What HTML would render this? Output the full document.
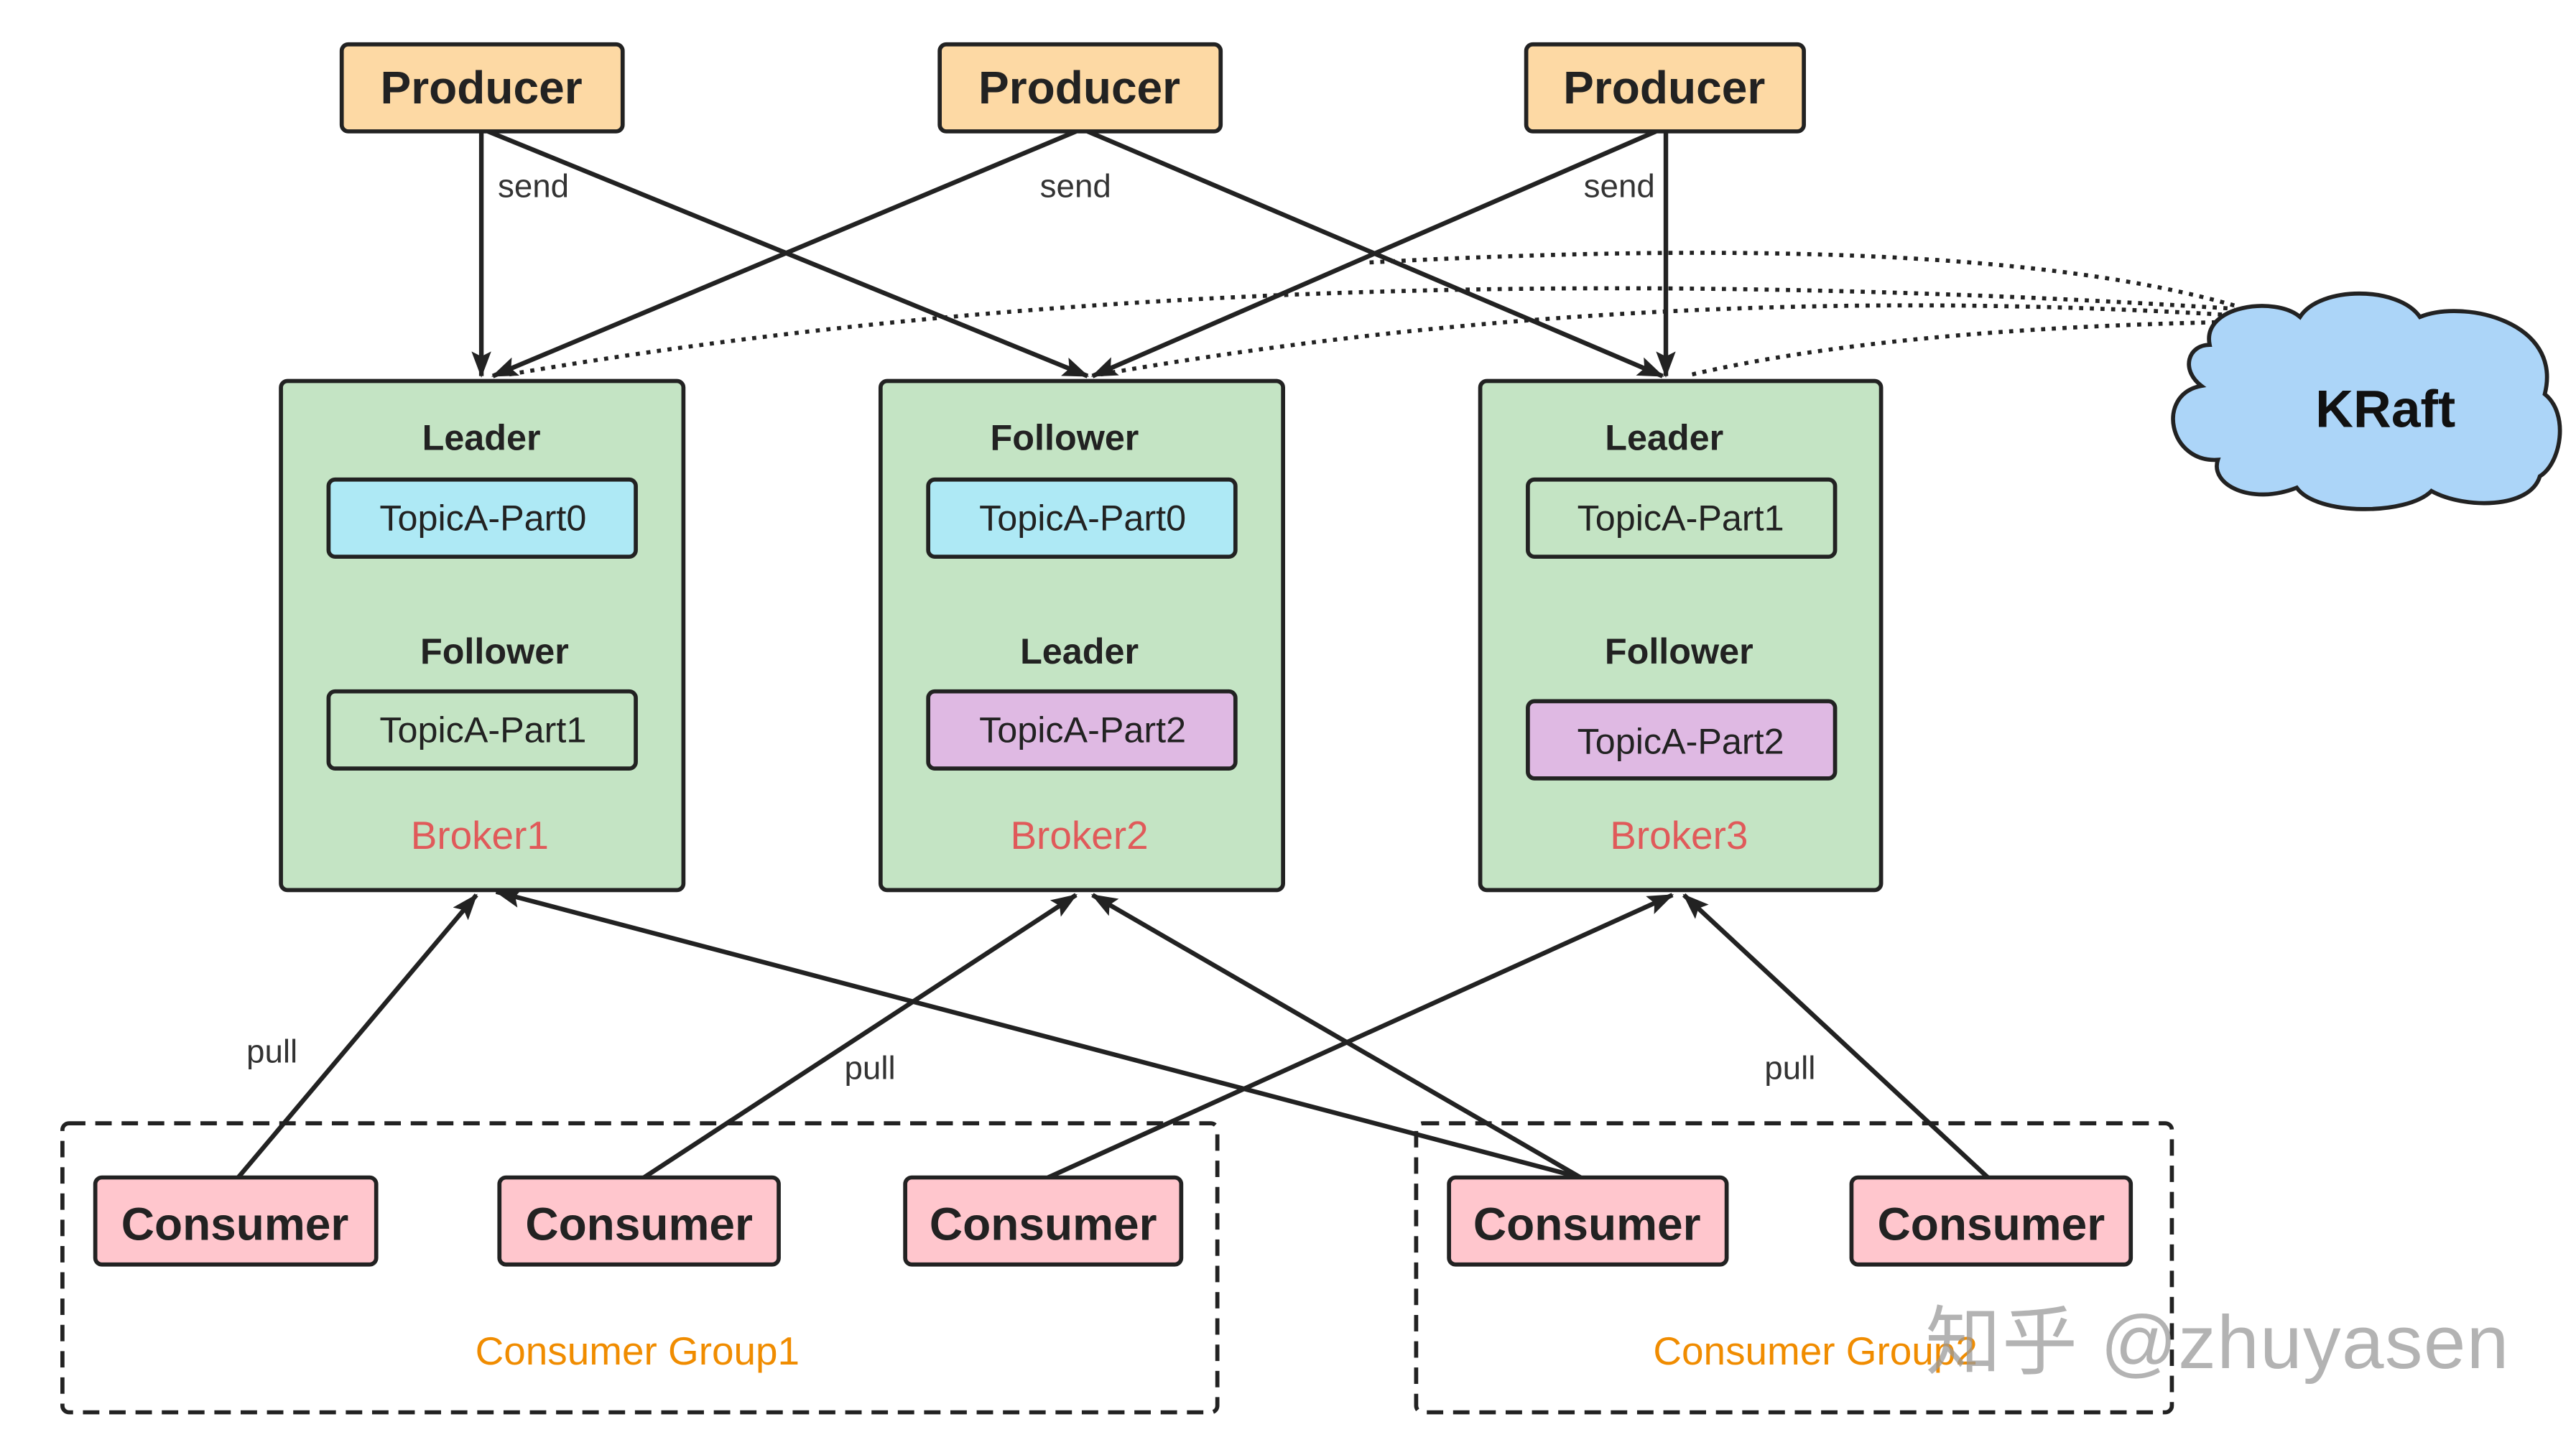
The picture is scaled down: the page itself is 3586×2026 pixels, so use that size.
<!DOCTYPE html>
<html><head><meta charset="utf-8"><style>
html,body{margin:0;padding:0;background:#fff;width:3586px;height:2026px;overflow:hidden}
svg{display:block}
text{font-family:"Liberation Sans",sans-serif}
</style></head><body>
<svg width="3586" height="2026" viewBox="0 0 1568 886" preserveAspectRatio="none" xmlns="http://www.w3.org/2000/svg">
<defs>
<marker id="ar" viewBox="0 0 16 12" refX="15" refY="6" markerWidth="16" markerHeight="12" orient="auto" markerUnits="userSpaceOnUse">
<path d="M0,0 L16,6 L0,12 L3,6 z" fill="#222"/>
</marker>
</defs>
<g stroke="#222" stroke-width="2.8" fill="none">
<g stroke-dasharray="2.5,4" stroke-width="2.5">
<path d="M310,228 Q 760,150 1360,188"/>
<path d="M670,228 Q 1000,170 1360,192"/>
<path d="M1030,228 Q 1150,200 1360,196"/>
<path d="M1360,186 Q 1200,140 830,160"/>
</g>
<line x1="293" y1="80" x2="293" y2="229" marker-end="url(#ar)"/>
<line x1="297" y1="80" x2="662" y2="229" marker-end="url(#ar)"/>
<line x1="655" y1="80" x2="300" y2="229" marker-end="url(#ar)"/>
<line x1="662" y1="80" x2="1012" y2="229" marker-end="url(#ar)"/>
<line x1="1008" y1="80" x2="665" y2="229" marker-end="url(#ar)"/>
<line x1="1014" y1="80" x2="1014" y2="229" marker-end="url(#ar)"/>
<line x1="145" y1="717" x2="290" y2="545" marker-end="url(#ar)"/>
<line x1="392" y1="717" x2="655" y2="545" marker-end="url(#ar)"/>
<line x1="638" y1="717" x2="1018" y2="545" marker-end="url(#ar)"/>
<line x1="962" y1="717" x2="302" y2="543" marker-end="url(#ar)"/>
<line x1="962" y1="717" x2="665" y2="545" marker-end="url(#ar)"/>
<line x1="1210" y1="717" x2="1025" y2="545" marker-end="url(#ar)"/>
</g>
<g stroke="#222" stroke-width="2.5" fill="#fdd9a4">
<rect x="208" y="27" width="171" height="53" rx="4"/>
<rect x="572" y="27" width="171" height="53" rx="4"/>
<rect x="929" y="27" width="169" height="53" rx="4"/>
</g>
<g font-size="28" font-weight="bold" fill="#222" text-anchor="middle">
<text x="293" y="63">Producer</text>
<text x="657" y="63">Producer</text>
<text x="1013" y="63">Producer</text>
</g>
<g font-size="20" fill="#333">
<text x="303" y="120">send</text>
<text x="633" y="120">send</text>
<text x="964" y="120">send</text>
<text x="150" y="647">pull</text>
<text x="514" y="657">pull</text>
<text x="1074" y="657">pull</text>
</g>
<g stroke="#222" stroke-width="2.5" fill="#c4e4c4">
<rect x="171" y="232" width="245" height="310" rx="4"/>
<rect x="536" y="232" width="245" height="310" rx="4"/>
<rect x="901" y="232" width="244" height="310" rx="4"/>
<rect x="200" y="292" width="187" height="47" rx="4" fill="#aee9f5"/>
<rect x="200" y="421" width="187" height="47" rx="4"/>
<rect x="565" y="292" width="187" height="47" rx="4" fill="#aee9f5"/>
<rect x="565" y="421" width="187" height="47" rx="4" fill="#dfb9e3"/>
<rect x="930" y="292" width="187" height="47" rx="4"/>
<rect x="930" y="427" width="187" height="47" rx="4" fill="#dfb9e3"/>
</g>
<g font-size="22" font-weight="bold" fill="#222" text-anchor="middle">
<text x="293" y="274">Leader</text>
<text x="301" y="404">Follower</text>
<text x="648" y="274">Follower</text>
<text x="657" y="404">Leader</text>
<text x="1013" y="274">Leader</text>
<text x="1022" y="404">Follower</text>
</g>
<g font-size="22" fill="#222" text-anchor="middle">
<text x="294" y="323">TopicA-Part0</text>
<text x="294" y="452">TopicA-Part1</text>
<text x="659" y="323">TopicA-Part0</text>
<text x="659" y="452">TopicA-Part2</text>
<text x="1023" y="323">TopicA-Part1</text>
<text x="1023" y="459">TopicA-Part2</text>
</g>
<g font-size="24" fill="#e05a5a" text-anchor="middle">
<text x="292" y="517">Broker1</text>
<text x="657" y="517">Broker2</text>
<text x="1022" y="517">Broker3</text>
</g>
<path d="M1345,210 C1340,186 1385,180 1400,193 C1412,174 1460,174 1473,193 C1500,182 1560,196 1549,240 C1564,252 1559,282 1546,290 C1540,310 1500,310 1480,299 C1465,314 1410,314 1398,297 C1370,308 1345,295 1350,280 C1320,282 1312,240 1340,235 C1327,225 1332,210 1345,210 Z" fill="#acd5f8" stroke="#222" stroke-width="2.5"/>
<text x="1452" y="260" font-size="32" font-weight="bold" fill="#111" text-anchor="middle">KRaft</text>
<g stroke="#222" stroke-width="2.5" fill="none" stroke-dasharray="10,6">
<rect x="38" y="684" width="703" height="176" rx="4"/>
<rect x="862" y="684" width="460" height="176" rx="4"/>
</g>
<g stroke="#222" stroke-width="2.5" fill="#ffc6cd">
<rect x="58" y="717" width="171" height="53" rx="4"/>
<rect x="304" y="717" width="170" height="53" rx="4"/>
<rect x="551" y="717" width="168" height="53" rx="4"/>
<rect x="882" y="717" width="169" height="53" rx="4"/>
<rect x="1127" y="717" width="170" height="53" rx="4"/>
</g>
<g font-size="28" font-weight="bold" fill="#222" text-anchor="middle">
<text x="143" y="755">Consumer</text>
<text x="389" y="755">Consumer</text>
<text x="635" y="755">Consumer</text>
<text x="966" y="755">Consumer</text>
<text x="1212" y="755">Consumer</text>
</g>
<g font-size="24" fill="#f08c00" text-anchor="middle">
<text x="388" y="831">Consumer Group1</text>
<text x="1105" y="831">Consumer Group2</text>
</g>
<text x="1172" y="833" font-size="46" fill="#999" fill-opacity="0.75" textLength="355" font-family="'Liberation Sans','Noto Sans CJK SC',sans-serif">知乎 @zhuyasen</text>
</svg>
</body></html>
